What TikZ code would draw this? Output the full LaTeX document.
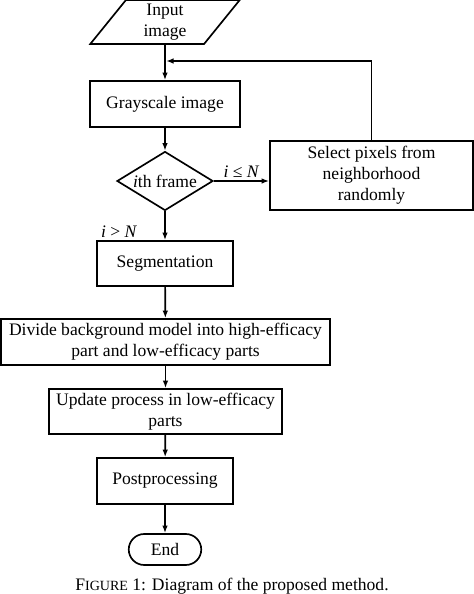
\documentclass[tikz,border=0pt]{standalone}
\usepackage{fontspec}
\setmainfont{Liberation Serif}
\usetikzlibrary{arrows.meta,shapes.geometric,shapes.misc}

\tikzset{
	blk/.style={draw, rectangle, align=center, inner sep=1pt},
	io/.style={draw, trapezium, trapezium left angle=62, trapezium right angle=118,
		trapezium stretches=true, align=center, inner sep=1pt},
	decide/.style={draw, diamond, shape aspect=1.6, inner sep=0pt},
	stop/.style={draw, rounded rectangle, inner sep=1pt}
}

\begin{document}
\begin{tikzpicture}[>={Latex[length=1.5mm,width=1.1mm]}, line width=0.95pt]
	\useasboundingbox (0,0) rectangle (9.48,-11.88);
	\node[io, minimum width=3cm, minimum height=0.88cm] (input) at (3.30,-0.44) {Input\\image};
	\node[blk, minimum width=3cm, minimum height=0.92cm] (gray) at (3.30,-2.08) {Grayscale image};
	\node[decide, minimum width=1.92cm, minimum height=1.18cm] (frame) at (3.30,-3.62) {\textit{i}th frame};
	\node[blk, minimum width=4.06cm, minimum height=1.38cm] (select) at (7.43,-3.51) {Select pixels from\\neighborhood\\randomly};
	\node[blk, minimum width=2.72cm, minimum height=0.9cm] (seg) at (3.30,-5.27) {Segmentation};
	\node[blk, minimum width=6.58cm, minimum height=0.92cm] (divide) at (3.31,-6.84) {Divide background model into high-efficacy\\part and low-efficacy parts};
	\node[blk, minimum width=4.66cm, minimum height=0.9cm] (update) at (3.31,-8.23) {Update process in low-efficacy\\parts};
	\node[blk, minimum width=2.72cm, minimum height=0.92cm] (post) at (3.30,-9.62) {Postprocessing};
	\node[stop, minimum width=1.52cm, minimum height=0.62cm] (end) at (3.30,-10.99) {End};
	\coordinate (back) at (3.32,-1.22);
	\node[anchor=base] (caption) at (4.64,-11.80) {F{\footnotesize IGURE} 1: Diagram of the proposed method.};

	\path[->]
	(input)  edge (gray)
	(gray)   edge (frame)
	(frame.east) edge node [above, inner sep=1.5pt] {\textit{i} ≤ \textit{N}} (select.west |- frame.east)
	(frame)  edge node [left=12pt, pos=0.7] {\textit{i} > \textit{N}} (seg)
	(seg)    edge (divide)
	(divide) edge (update)
	(update) edge (post)
	(post)   edge (end)
	;
	\draw[->] (select.north) |- (back);
\end{tikzpicture}
\end{document}
